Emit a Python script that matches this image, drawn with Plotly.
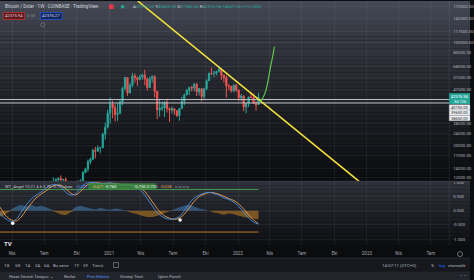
import plotly.graph_objects as go
import pandas as pd

W, H = 474, 280
def px(x): return x / W
def py(y): return 1 - y / H

# ---------------- data ----------------
candle_start = "2020-07-27"
candle_open = [9935, 11070, 11680, 11910, 11650, 11710, 10250, 10320, 10920, 10740,
               11080, 11380, 11500, 13030, 13800, 15480, 16050, 18400, 18180, 19150,
               19270, 23730, 26430, 33000, 38150, 35800, 32270, 33100, 39240, 48580,
               57480, 45200, 50970, 59000, 57350, 55800, 58200, 59800, 56200, 49100,
               56400, 58300, 46400, 34700, 35700, 35800, 39100, 35500, 34600, 35300,
               34250, 31780, 35400, 39850, 43800, 47000, 49300, 48800, 51750, 46000,
               48300, 42700, 48200, 54700, 61550, 61300, 61400, 63300, 65500, 59700,
               57300, 50400, 50100, 46700, 50800, 47300, 41860, 43100, 36300, 38200,
               42400, 42200, 38300, 37700]
candle_high = [12120, 11900, 12080, 12480, 11800, 12090, 10600, 11180, 10980, 10950,
               11480, 11720, 13350, 14060, 15970, 16480, 18950, 19480, 19920, 19420,
               24300, 28420, 34800, 42000, 40100, 37850, 38530, 40960, 49700, 58350,
               57500, 52640, 61800, 61180, 58500, 60200, 61300, 64900, 57500, 58500,
               59500, 59600, 46600, 40900, 39500, 39900, 41300, 36000, 36600, 35300,
               34600, 35400, 42600, 44700, 48100, 49400, 50500, 52900, 52900, 48800,
               48300, 49000, 56000, 62000, 67000, 63700, 63500, 69000, 66300, 59900,
               59200, 51900, 50500, 52100, 52000, 47500, 44500, 43500, 38900, 42600,
               45800, 44800, 39800, 45400]
candle_low = [9900, 10950, 11120, 11370, 11120, 9880, 9870, 10200, 10140, 10370,
              10530, 11220, 11430, 12950, 13200, 14850, 15800, 16250, 18100, 17600,
              19000, 21800, 25900, 28000, 30400, 28850, 29150, 32300, 37400, 47000,
              43000, 45000, 49300, 53250, 50400, 55000, 55500, 51000, 47000, 48800,
              53000, 42000, 30000, 31200, 34100, 31000, 33300, 28800, 32700, 32100,
              31000, 29300, 35200, 37400, 43700, 43900, 46300, 46600, 43000, 43400,
              39600, 40700, 47100, 54400, 59600, 58000, 59400, 62300, 55600, 53300,
              42000, 47100, 45500, 45600, 45700, 39700, 39600, 34000, 32900, 36300,
              41700, 38000, 34300, 37400]
candle_close = [11070, 11680, 11910, 11650, 11710, 10250, 10320, 10920, 10740, 11080,
                11380, 11500, 13030, 13800, 15480, 16050, 18400, 18180, 19150, 19270,
                23730, 26430, 33000, 38150, 35800, 32270, 33100, 39240, 48580, 57480,
                45200, 50970, 59000, 57350, 55800, 58200, 59800, 56200, 49100, 56400,
                58300, 46400, 34700, 35700, 35800, 39100, 35500, 34600, 35300, 34250,
                31780, 35400, 39850, 43800, 47000, 49300, 48800, 51750, 46000, 48300,
                42700, 48200, 54700, 61550, 61300, 61400, 63300, 65500, 59700, 57300,
                50400, 50100, 46700, 50800, 47300, 41860, 43100, 36300, 38200, 42400,
                42200, 38300, 37700, 42376.94]

last_price_text = "42376.94"
countdown_text = "3d 12h"
level_prices = [40750, 38650]
level_labels = ["40750.00", "39650.00", "38650.00"]

trend_dates = ["2021-03-23", "2022-12-10"]
trend_prices = [189800, 11370]

proj_dates = ["2022-03-06", "2022-03-18", "2022-03-26", "2022-04-02", "2022-04-09", "2022-04-14"]
proj_prices = [39500, 44700, 53000, 65900, 79500, 92900]

price_ticks = [175000, 145000, 117500, 100000, 85000, 68000, 57500, 47500,
               28000, 24000, 20000, 17000, 14000, 12000]
price_tick_text = ["175000.00", "145000.00", "117500.00", "100000.00", "85000.00",
                   "68000.00", "57500.00", "47500.00", "28000.00", "24000.00",
                   "20000.00", "17000.00", "14000.00", "12000.00"]

ind_start = "2020-02-17"
wt1 = [0.15, -0.15, -0.30, -0.38, -0.30, -0.05, 0.20, 0.40, 0.55, 0.65,
       0.80, 0.90, 0.92, 0.85, 0.65, 0.55, 0.60, 0.80, 0.95, 1.00,
       0.98, 0.95, 0.97, 0.98, 0.95, 0.90, 0.92, 0.90, 0.85, 0.75,
       0.55, 0.30, 0.05, -0.15, -0.25, -0.30, -0.28, -0.20, 0.00, 0.25,
       0.45, 0.55, 0.62, 0.65, 0.60, 0.55, 0.45, 0.40, 0.30, 0.15,
       -0.05, -0.25, -0.40, -0.47]
wt2 = [0.30, 0.05, -0.20, -0.32, -0.36, -0.22, 0.02, 0.25, 0.45, 0.58,
       0.70, 0.83, 0.90, 0.90, 0.78, 0.62, 0.56, 0.68, 0.86, 0.96,
       0.99, 0.97, 0.96, 0.97, 0.96, 0.93, 0.91, 0.91, 0.88, 0.81,
       0.68, 0.45, 0.20, -0.03, -0.18, -0.26, -0.30, -0.26, -0.12, 0.10,
       0.33, 0.50, 0.58, 0.64, 0.63, 0.58, 0.51, 0.43, 0.36, 0.24,
       0.06, -0.14, -0.32, -0.46]
wt_hist = [-0.10, -0.20, -0.10, 0.05, 0.15, 0.20, 0.15, 0.20, 0.15, 0.18,
           0.12, 0.05, -0.05, -0.12, -0.15, -0.05, 0.12, 0.18, 0.12, 0.08,
           0.05, 0.10, 0.06, 0.04, 0.08, 0.05, 0.02, -0.05, -0.10, -0.15,
           -0.20, -0.22, -0.20, -0.15, -0.08, -0.02, 0.05, 0.12, 0.18, 0.20,
           0.15, 0.08, 0.04, 0.00, -0.06, -0.10, -0.14, -0.10, -0.12, -0.18,
           -0.22, -0.25, -0.28, -0.30]
ind_levels = [0.75, -0.75]
dot_dates = ["2020-04-03", "2021-07-21"]
dot_values = [-0.44, -0.33]
ind_ticks = [1, 0.5, 0, -0.5, -1]
ind_tick_text = ["1.000", "0.500", "0.000", "-0.500", "-1.000"]

time_tickvals = ["2020-04-01", "2020-07-01", "2020-10-01", "2021-01-01", "2021-04-01",
                 "2021-07-01", "2021-10-01", "2022-01-01", "2022-04-01", "2022-07-01",
                 "2022-10-01", "2023-01-01", "2023-04-01", "2023-07-01"]
time_ticktext = ["Nis", "Tem", "Eki", "2021", "Nis", "Tem", "Eki", "2022",
                 "Nis", "Tem", "Eki", "2023", "Nis", "Tem"]

# ---------------- figure ----------------
candle_dates = pd.date_range(candle_start, periods=len(candle_close), freq="7D")
ind_dates = pd.date_range(ind_start, periods=len(wt1), freq="14D")

FONT = "Roboto, Noto Sans, sans-serif"
fig = go.Figure()

fig.add_trace(go.Candlestick(
    x=candle_dates, open=candle_open, high=candle_high, low=candle_low, close=candle_close,
    increasing=dict(line=dict(color="#26a69a", width=1), fillcolor="#26a69a"),
    decreasing=dict(line=dict(color="#ef5350", width=1), fillcolor="#ef5350"),
    whiskerwidth=0, showlegend=False, hoverinfo="skip", xaxis="x", yaxis="y"))

for p in level_prices:
    fig.add_trace(go.Scatter(x=["2020-01-01", "2024-01-01"], y=[p, p], mode="lines",
                             line=dict(color="#c4c7ce", width=1), showlegend=False,
                             hoverinfo="skip", xaxis="x", yaxis="y"))

fig.add_trace(go.Scatter(x=trend_dates, y=trend_prices, mode="lines",
                         line=dict(color="#f4e23c", width=1.6), showlegend=False,
                         hoverinfo="skip", xaxis="x", yaxis="y"))
fig.add_trace(go.Scatter(x=proj_dates, y=proj_prices, mode="lines",
                         line=dict(color="#5cc94a", width=1.2, shape="spline"),
                         showlegend=False, hoverinfo="skip", xaxis="x", yaxis="y"))

# indicator
hist_pos = [max(v, 0) for v in wt_hist]
hist_neg = [min(v, 0) for v in wt_hist]
fig.add_trace(go.Scatter(x=ind_dates, y=hist_pos, mode="lines", fill="tozeroy",
                         line=dict(width=0, shape="spline"), fillcolor="rgba(70,130,180,0.55)",
                         showlegend=False, hoverinfo="skip", xaxis="x2", yaxis="y2"))
fig.add_trace(go.Scatter(x=ind_dates, y=hist_neg, mode="lines", fill="tozeroy",
                         line=dict(width=0, shape="spline"), fillcolor="rgba(160,110,35,0.7)",
                         showlegend=False, hoverinfo="skip", xaxis="x2", yaxis="y2"))
lvl_colors = ["#3f9a4c", "#b8782c"]
for v, c in zip(ind_levels, lvl_colors):
    fig.add_trace(go.Scatter(x=[ind_dates[0], ind_dates[-1]], y=[v, v], mode="lines",
                             line=dict(color=c, width=1), showlegend=False,
                             hoverinfo="skip", xaxis="x2", yaxis="y2"))
fig.add_trace(go.Scatter(x=ind_dates, y=wt2, mode="lines",
                         line=dict(color="#f0a050", width=0.9, shape="spline"),
                         showlegend=False, hoverinfo="skip", xaxis="x2", yaxis="y2"))
fig.add_trace(go.Scatter(x=ind_dates, y=wt1, mode="lines",
                         line=dict(color="#4a90e2", width=0.9, shape="spline"),
                         showlegend=False, hoverinfo="skip", xaxis="x2", yaxis="y2"))
fig.add_trace(go.Scatter(x=dot_dates, y=dot_values, mode="markers",
                         marker=dict(color="white", size=3.5),
                         showlegend=False, hoverinfo="skip", xaxis="x2", yaxis="y2"))

# ---------------- backgrounds ----------------
shapes = []
def lerp(c0, c1, t):
    return "#%02x%02x%02x" % tuple(int(round(a + (b - a) * t)) for a, b in zip(c0, c1))

top_c, bot_c = (0x47, 0x4b, 0x57), (0x0b, 0x0c, 0x0f)
step = 4
y = 0
while y < 181:
    y1 = min(181, y + step)
    t = ((y + y1) / 2 / 181) ** 0.75
    shapes.append(dict(type="rect", xref="paper", yref="paper", x0=0, x1=1,
                       y0=py(y1), y1=py(y), fillcolor=lerp(top_c, bot_c, t),
                       line=dict(width=0), layer="below"))
    y = y1
top2, bot2 = (0x2f, 0x32, 0x3b), (0x0d, 0x0e, 0x11)
y = 181
while y < 245:
    y1 = min(245, y + step)
    t = ((y + y1) / 2 - 181) / 64
    shapes.append(dict(type="rect", xref="paper", yref="paper", x0=0, x1=1,
                       y0=py(y1), y1=py(y), fillcolor=lerp(top2, bot2, t),
                       line=dict(width=0), layer="below"))
    y = y1
for (ya, yb, col) in [(245, 258, "#0b0c0e"), (258, 271.5, "#16181d"), (271.5, 280, "#22252c")]:
    shapes.append(dict(type="rect", xref="paper", yref="paper", x0=0, x1=1,
                       y0=py(yb), y1=py(ya), fillcolor=col, line=dict(width=0), layer="below"))
# separators
shapes.append(dict(type="line", xref="paper", yref="paper", x0=0, x1=1, y0=py(181), y1=py(181),
                   line=dict(color="#3a3d46", width=1), layer="above"))
shapes.append(dict(type="line", xref="paper", yref="paper", x0=px(453), x1=px(453), y0=py(245), y1=1,
                   line=dict(color="rgba(255,255,255,0.07)", width=1), layer="below"))
shapes.append(dict(type="line", xref="paper", yref="paper", x0=0, x1=1, y0=py(258), y1=py(258),
                   line=dict(color="#2a2d34", width=1), layer="above"))

annotations = []
def txt(x, y, s, color="#b2b5be", size=4.5, anchor="left", bold=False):
    if bold:
        s = "<b>" + s + "</b>"
    annotations.append(dict(x=px(x), y=py(y), xref="paper", yref="paper", text=s,
                            showarrow=False, xanchor=anchor, yanchor="middle",
                            font=dict(family=FONT, size=size, color=color)))

# header row 1
txt(3, 5.7, "Bitcoin / Dolar · 1W · COINBASE · TradingView", "#d1d4dc", 4.6)
shapes.append(dict(type="rect", xref="paper", yref="paper", x0=px(110), x1=px(114.5),
                   y0=py(8), y1=py(3.5), fillcolor="#f23645", line=dict(width=0), layer="above"))
shapes.append(dict(type="circle", xref="paper", yref="paper", x0=px(121.8), x1=px(125.4),
                   y0=py(7.5), y1=py(3.9), fillcolor="#22ab94", line=dict(width=0), layer="above"))
teal = "#26a69a"
ohlc = ("A<span style='color:%s'>37707.20</span> Y<span style='color:%s'>45400.00</span> "
        "D<span style='color:%s'>37386.66</span> K<span style='color:%s'>42376.94</span> "
        "<span style='color:%s'>+4669.74 (+12.38%%)</span>") % (teal, teal, teal, teal, teal)
txt(132, 5.7, ohlc, "#d1d4dc", 4.4)
# header row 2 (sell / buy)
shapes.append(dict(type="rect", xref="paper", yref="paper", x0=px(3.3), x1=px(25),
                   y0=py(18.5), y1=py(11.5), fillcolor="#5a1a20", line=dict(color="#e53935", width=0.6),
                   layer="above"))
txt(14.2, 15, "42375.94", "#f5c6c6", 4.2, "center")
txt(31.5, 15, "0.33", "#9598a1", 4.2, "center")
shapes.append(dict(type="rect", xref="paper", yref="paper", x0=px(40.7), x1=px(62.7),
                   y0=py(18.5), y1=py(11.5), fillcolor="#13285a", line=dict(color="#2962ff", width=0.6),
                   layer="above"))
txt(51.7, 15, "42376.27", "#c9d6ff", 4.2, "center")
shapes.append(dict(type="circle", xref="paper", yref="paper", x0=px(41), x1=px(45),
                   y0=py(26), y1=py(22), fillcolor="rgba(0,0,0,0)", line=dict(color="#787b86", width=0.7),
                   layer="above"))

# right price boxes
shapes.append(dict(type="rect", xref="paper", yref="paper", x0=px(453), x1=px(474),
                   y0=py(103.5), y1=py(92.5), fillcolor="#26a69a", line=dict(width=0), layer="above"))
txt(463.5, 95.5, last_price_text, "#ffffff", 4.0, "center")
txt(463.5, 100.8, countdown_text, "#ffffff", 4.0, "center")
for i, lab in enumerate(level_labels):
    y0 = 104 + i * 5.4
    shapes.append(dict(type="rect", xref="paper", yref="paper", x0=px(453), x1=px(474),
                       y0=py(y0 + 5.4), y1=py(y0), fillcolor="#f0f1f3",
                       line=dict(color="#9598a1", width=0.4), layer="above"))
    txt(463.5, y0 + 2.7, lab, "#131722", 4.0, "center")

# indicator legend band
shapes.append(dict(type="rect", xref="paper", yref="paper", x0=px(89), x1=px(157),
                   y0=py(189.5), y1=py(183), fillcolor="rgba(60,140,65,0.85)", line=dict(width=0),
                   layer="above"))
txt(3, 186.3, "WT_Angel 10 21 4 6 3 75 -0.75 close", "#c3c6ce", 4.2)
txt(75, 186.3, "-0.472", "#5b9cf6", 4.2)
txt(91, 186.3, "-0.471 <span style='color:#ffffff'>-0.760</span>", "#f0b060", 4.2)
txt(133, 186.3, "-0.750 0.750", "#e8f5e9", 4.2)
txt(159, 186.3, "-0.028", "#e8a35c", 4.2)
txt(174, 186.3, "n/a n/a", "#9598a1", 4.2)

# TV logo
txt(8, 243, "TV", "#e0e3eb", 6, "center", bold=True)
shapes.append(dict(type="circle", xref="paper", yref="paper", x0=px(461.5), x1=px(466.5),
                   y0=py(256.5), y1=py(251.5), fillcolor="rgba(0,0,0,0)", line=dict(color="#9598a1", width=0.7),
                   layer="above"))

# toolbar
tb = [(7, "1G"), (18, "5G"), (28, "1A"), (38, "3A"), (47, "6A"), (61.5, "Bu sene"),
      (77, "1Y"), (86, "5Y"), (99, "Tümü")]
for x, s in tb:
    txt(x, 265, s, "#b2b5be", 4.4, "center")
shapes.append(dict(type="rect", xref="paper", yref="paper", x0=px(114.5), x1=px(119.5),
                   y0=py(267.5), y1=py(262.5), fillcolor="rgba(0,0,0,0)",
                   line=dict(color="#9598a1", width=0.6), layer="above"))
txt(423, 265, "14:57:11 (UTC+3)", "#b2b5be", 4.4, "right")
txt(437, 265, "%", "#b2b5be", 4.4, "center")
txt(446, 265, "log", "#2962ff", 4.4, "center")
txt(472, 265, "otomatik", "#b2b5be", 4.4, "right")
tabs = [(7, "Hisse Senedi Tarayıcı ⌄", "#b2b5be"), (63, "Notlar", "#b2b5be"),
        (86, "Pine Editörü", "#5b8def"), (119, "Strateji Testi", "#b2b5be"),
        (157, "İşlem Paneli", "#b2b5be")]
for x, s, c in tabs:
    txt(x, 276.5, s, c, 4.2)
txt(472, 276.5, "⌃ ⌃", "#9598a1", 4.2, "right")

grid = "rgba(255,255,255,0.05)"
fig.update_layout(
    width=W, height=H, autosize=False,
    margin=dict(l=0, r=0, t=0, b=0, pad=0),
    paper_bgcolor="#0b0c0f", plot_bgcolor="rgba(0,0,0,0)",
    showlegend=False, shapes=shapes, annotations=annotations,
    font=dict(family=FONT, size=4.5, color="#b2b5be"),
    xaxis=dict(domain=[0, px(453)], anchor="y", type="date",
               range=["2020-02-27", "2023-08-22"], rangeslider=dict(visible=False),
               tickvals=time_tickvals, showticklabels=False, showgrid=True,
               gridcolor=grid, gridwidth=1, zeroline=False, showline=False, ticks=""),
    yaxis=dict(domain=[py(181), 1], anchor="x", type="log",
               range=[4.0557, 5.2783], side="right", tickvals=price_ticks,
               ticktext=price_tick_text, tickfont=dict(size=4.3, color="#b2b5be"),
               showgrid=True, gridcolor=grid, zeroline=False, showline=False, ticks="",
               ticklabelstandoff=3),
    xaxis2=dict(domain=[0, px(453)], anchor="y2", matches="x", type="date",
                tickvals=time_tickvals, ticktext=time_ticktext,
                tickfont=dict(size=4.5, color="#a3a6af"), showgrid=True, gridcolor=grid,
                zeroline=False, showline=False, ticks="", ticklabelstandoff=4),
    yaxis2=dict(domain=[py(245), py(181)], anchor="x2", range=[-1.21, 1.035],
                side="right", tickvals=ind_ticks, ticktext=ind_tick_text,
                tickfont=dict(size=4.3, color="#b2b5be"), showgrid=True, gridcolor=grid,
                zeroline=False, showline=False, ticks="", ticklabelstandoff=3),
)

fig.write_html("out.html")
